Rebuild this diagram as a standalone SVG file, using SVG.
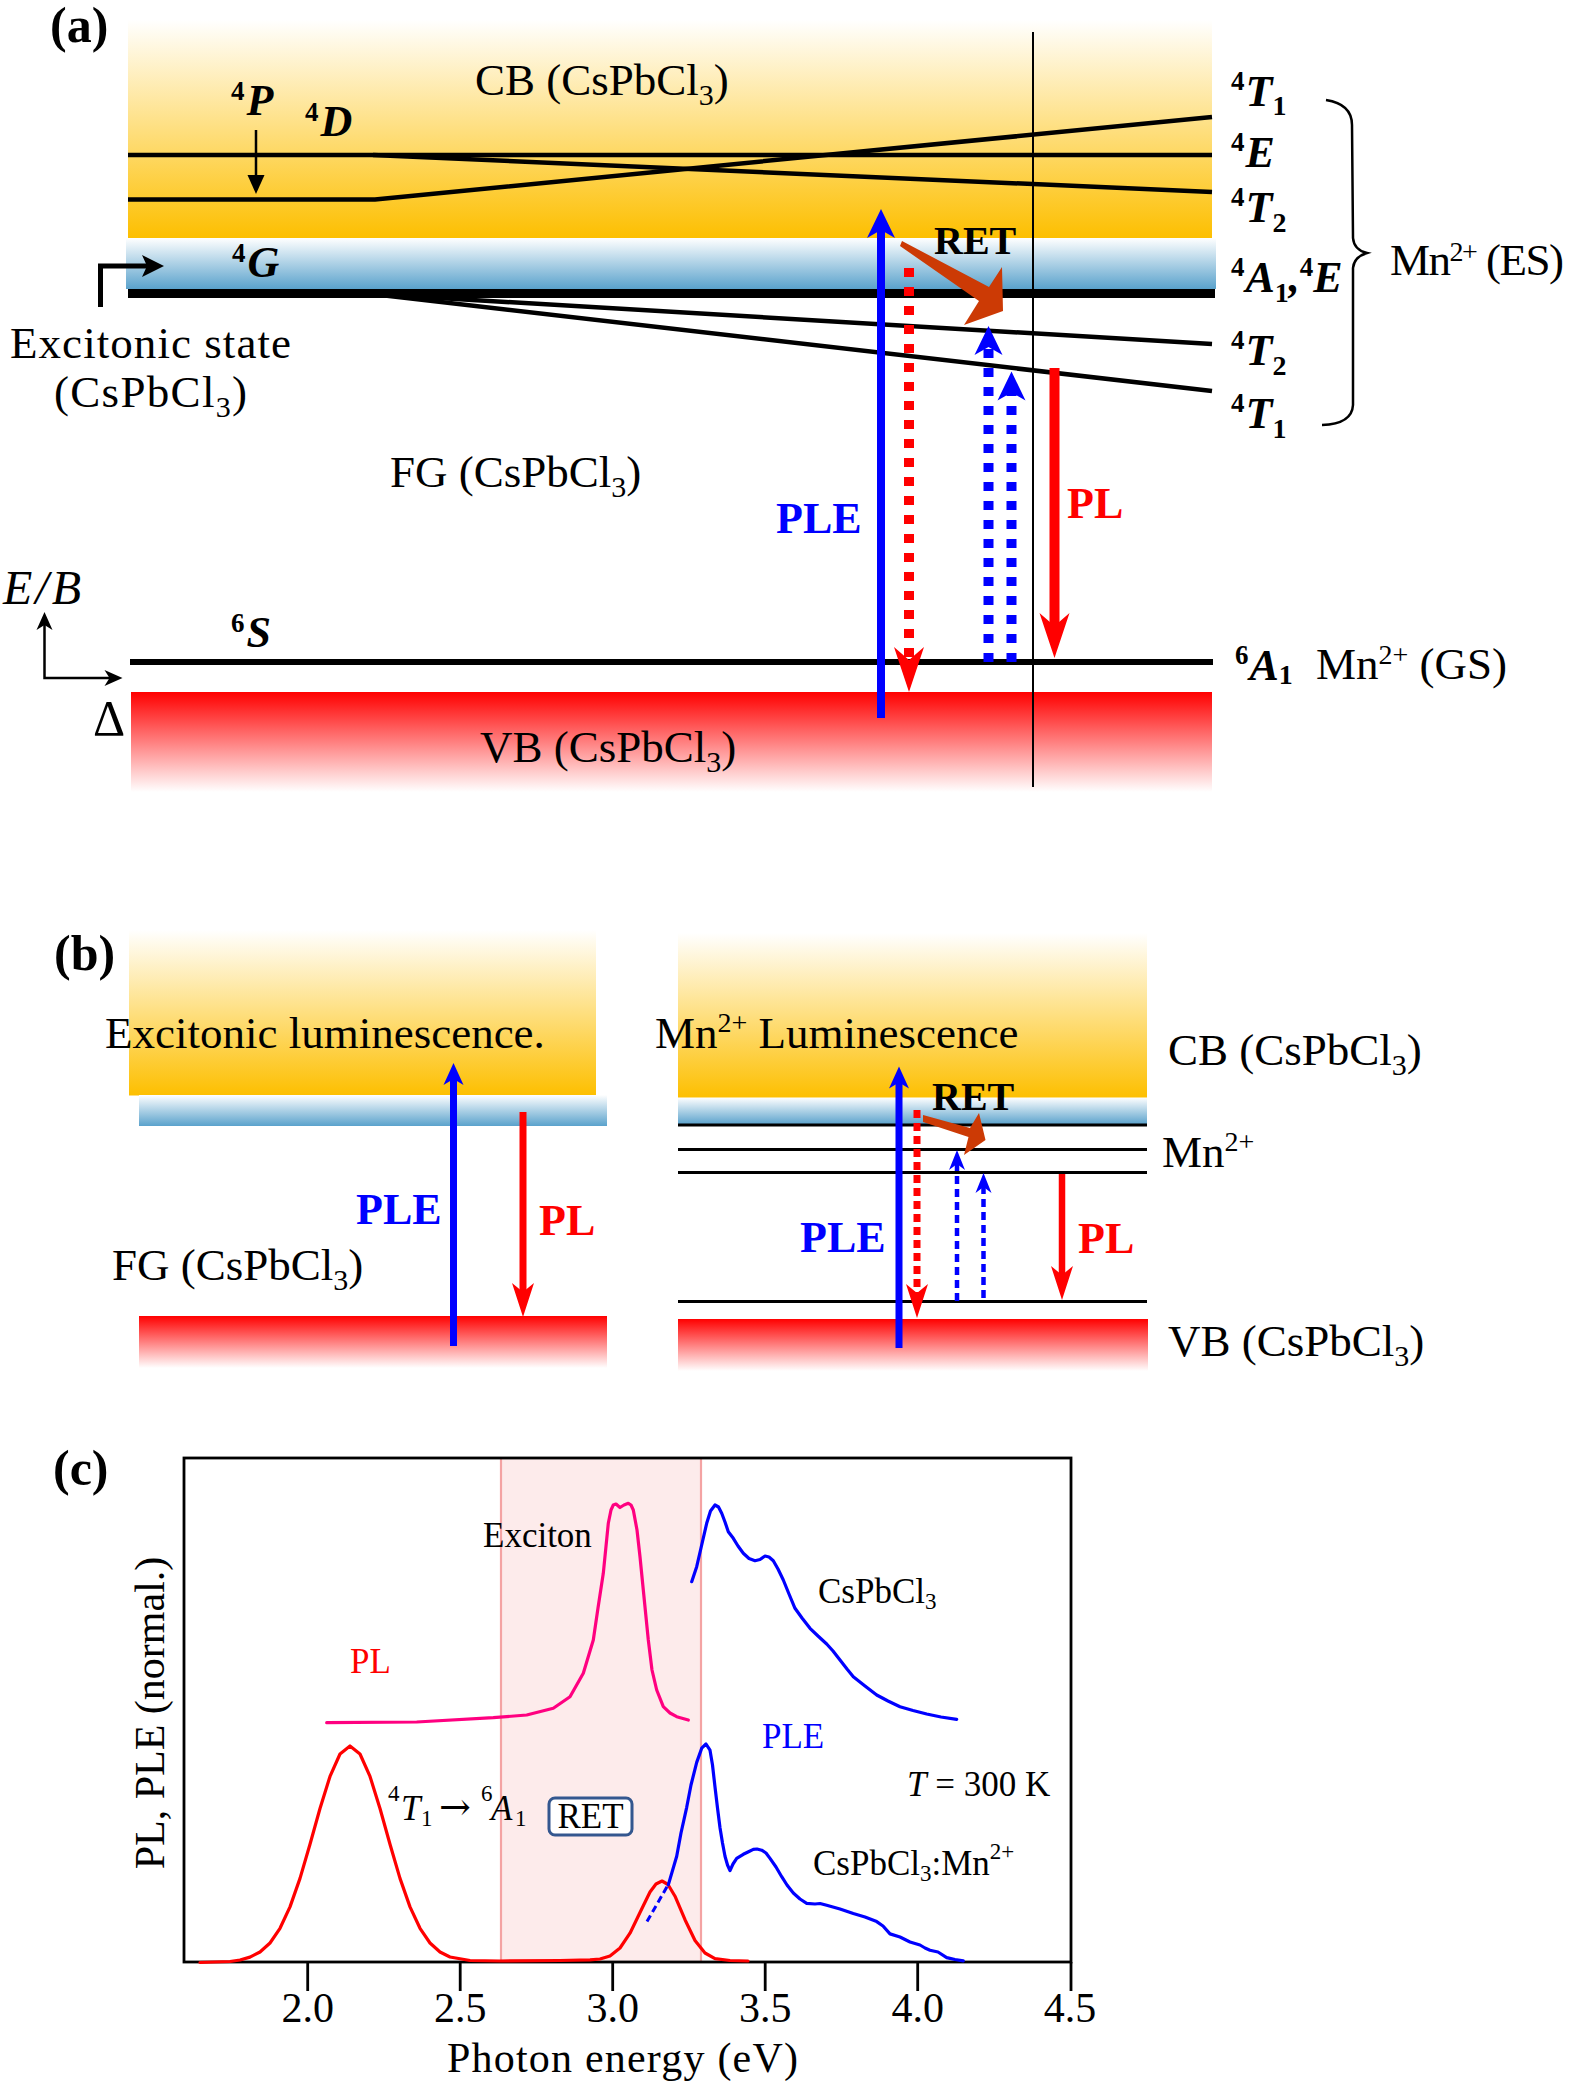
<svg xmlns="http://www.w3.org/2000/svg" width="1570" height="2081" viewBox="0 0 1570 2081">
<style>
text { font-family: "Liberation Serif", "Times New Roman", serif; fill: #000; }
.t45 { font-size: 45px; }
.b { font-weight: bold; }
.bi { font-weight: bold; font-style: italic; font-size: 44px; }
.sup { font-size: 27px; font-style: normal; }
.sub { font-size: 28px; font-style: normal; }
.ts { font-size: 30px; }
.s28 { font-size: 28px; }
.ple { fill: #0000FF; font-weight: bold; font-size: 44px; }
.pl { fill: #FF0000; font-weight: bold; font-size: 44px; }
.c35 { font-size: 35px; }
.c22 { font-size: 23px; }
.arr { font-family: "DejaVu Serif", "DejaVu Sans", serif; font-size: 38px; font-style: normal; }
.lv { stroke: #000; fill: none; }
.cv { fill: none; stroke-width: 3.2; stroke-linejoin: round; stroke-linecap: round; }
.tick { font-size: 42px; text-anchor: middle; }
</style>
<defs>
  <linearGradient id="gCB" x1="0" y1="0" x2="0" y2="1">
    <stop offset="0" stop-color="#FFFFFF"/>
    <stop offset="1" stop-color="#FDBF00"/>
  </linearGradient>
  <linearGradient id="gBlue" x1="0" y1="0" x2="0" y2="1">
    <stop offset="0" stop-color="#FFFFFF"/>
    <stop offset="1" stop-color="#5AA2CC"/>
  </linearGradient>
  <linearGradient id="gRed" x1="0" y1="0" x2="0" y2="1">
    <stop offset="0" stop-color="#FF0000"/>
    <stop offset="1" stop-color="#FFFFFF"/>
  </linearGradient>
  <path id="hA" d="M0,0 L14,29 L0,21 L-14,29 Z"/>
  <path id="hB" d="M0,0 L-15,-45 L0,-32 L15,-45 Z"/>
  <path id="hC" d="M0,0 L10,22 L0,16 L-10,22 Z"/>
  <path id="hD" d="M0,0 L-11,-34 L0,-25 L11,-34 Z"/>
  <path id="hE" d="M0,0 L8,20 L0,14 L-8,20 Z"/>
  <path id="hK" d="M0,0 L8,18 L0,13 L-8,18 Z"/>
</defs>

<!-- ================= PANEL (a) ================= -->
<g id="panel-a">
  <g id="a-cb"><rect x="128" y="20" width="1084" height="218.5" fill="url(#gCB)"/></g>
  <g id="a-exciton-band"><rect x="126" y="238" width="1090" height="51" fill="url(#gBlue)"/></g>
  <g id="a-vb"><rect x="131" y="692" width="1081" height="100" fill="url(#gRed)"/></g>
  <g id="a-levels" class="lv">
    <line x1="128" y1="155" x2="1212" y2="155" stroke-width="4.5"/>
    <polyline points="128,199.5 375,199.5 1212,117" stroke-width="4.5"/>
    <line x1="373" y1="155" x2="1212" y2="192" stroke-width="4.5"/>
    <line x1="128" y1="293.5" x2="1215" y2="293.5" stroke-width="9"/>
    <line x1="372" y1="294" x2="1212" y2="344" stroke-width="4.5"/>
    <line x1="372" y1="294" x2="1212" y2="391" stroke-width="4.5"/>
    <line x1="130" y1="662" x2="1213" y2="662" stroke-width="6"/>
    <line x1="1033" y1="32" x2="1033" y2="787" stroke-width="2"/>
  </g>
  <g id="a-labels">
    <text x="50" y="42" class="b" font-size="50">(a)</text>
    <text x="475" y="95" class="t45">CB (CsPbCl<tspan class="ts" dy="10">3</tspan><tspan dy="-10">)</tspan></text>
    <text x="231" y="115" class="bi"><tspan class="sup" dy="-15">4</tspan><tspan dy="15" dx="2">P</tspan></text>
    <text x="305" y="136" class="bi"><tspan class="sup" dy="-15">4</tspan><tspan dy="15" dx="2">D</tspan></text>
    <text x="232" y="277" class="bi"><tspan class="sup" dy="-15">4</tspan><tspan dy="15" dx="2">G</tspan></text>
    <text x="10" y="358" class="t45" textLength="281">Excitonic state</text>
    <text x="54" y="407" class="t45" textLength="193">(CsPbCl<tspan class="ts" dy="10">3</tspan><tspan dy="-10">)</tspan></text>
    <text x="390" y="487" class="t45">FG (CsPbCl<tspan class="ts" dy="10">3</tspan><tspan dy="-10">)</tspan></text>
    <text x="3" y="604" font-size="48" font-style="italic" textLength="78">E/B</text>
    <text x="93" y="735" font-size="50">Δ</text>
    <text x="231" y="647" class="bi"><tspan class="sup" dy="-15">6</tspan><tspan dy="15" dx="2">S</tspan></text>
    <text x="480" y="762" class="t45">VB (CsPbCl<tspan class="ts" dy="10">3</tspan><tspan dy="-10">)</tspan></text>
    <text x="934" y="254" class="b" font-size="40">RET</text>
    <text x="776" y="533" class="ple">PLE</text>
    <text x="1067" y="518" class="pl">PL</text>
    <text x="1231" y="106" class="bi"><tspan class="sup" dy="-16">4</tspan><tspan dy="16" dx="1">T</tspan><tspan class="sub" dy="9">1</tspan></text>
    <text x="1231" y="167" class="bi"><tspan class="sup" dy="-16">4</tspan><tspan dy="16" dx="1">E</tspan></text>
    <text x="1231" y="222" class="bi"><tspan class="sup" dy="-16">4</tspan><tspan dy="16" dx="1">T</tspan><tspan class="sub" dy="10">2</tspan></text>
    <text x="1231" y="292" class="bi"><tspan class="sup" dy="-16">4</tspan><tspan dy="16" dx="1">A</tspan><tspan class="sub" dy="10">1</tspan><tspan dy="-10">,</tspan><tspan class="sup" dy="-16">4</tspan><tspan dy="16">E</tspan></text>
    <text x="1231" y="365" class="bi"><tspan class="sup" dy="-16">4</tspan><tspan dy="16" dx="1">T</tspan><tspan class="sub" dy="10">2</tspan></text>
    <text x="1231" y="428" class="bi"><tspan class="sup" dy="-16">4</tspan><tspan dy="16" dx="1">T</tspan><tspan class="sub" dy="10">1</tspan></text>
    <text x="1390" y="275" class="t45" textLength="174">Mn<tspan class="s28" dy="-14">2+</tspan><tspan dy="14"> (ES)</tspan></text>
    <text x="1235" y="680" class="bi"><tspan class="sup" dy="-16">6</tspan><tspan dy="16" dx="1">A</tspan><tspan class="sub" dy="4">1</tspan></text>
    <text x="1316" y="679" class="t45">Mn<tspan class="s28" dy="-15">2+</tspan><tspan dy="15"> (GS)</tspan></text>
  </g>
  <g id="a-brace">
    <path d="M1326,100 Q1352,104 1352,125 L1353,238 Q1354,250 1367,253 Q1354,257 1353,268 L1353,405 Q1352,424 1322,425" fill="none" stroke="#000" stroke-width="2.5"/>
  </g>
  <g id="a-connectors">
    <line x1="256" y1="130" x2="256" y2="180" stroke="#000" stroke-width="2.5"/>
    <path d="M256,194 L247.5,175 L264.5,175 Z" fill="#000"/>
    <polyline points="100.5,307 100.5,266 150,266" fill="none" stroke="#000" stroke-width="5"/>
    <path d="M164,266 L142,255 L147,266 L142,277 Z" fill="#000"/>
    <polyline points="44.5,622 44.5,678 112,678" fill="none" stroke="#000" stroke-width="2.5"/>
    <use href="#hK" x="44.5" y="612" fill="#000"/>
    <use href="#hK" transform="translate(122.5,678) rotate(90)" fill="#000"/>
    <line x1="881" y1="718" x2="881" y2="228" stroke="#0000FF" stroke-width="8"/>
    <use href="#hA" x="881" y="209" fill="#0000FF"/>
    <line x1="909" y1="268" x2="909" y2="662" stroke="#FF0000" stroke-width="10" stroke-dasharray="9,10"/>
    <use href="#hB" x="909" y="692" fill="#FF0000"/>
    <line x1="988.5" y1="662" x2="988.5" y2="346" stroke="#0000FF" stroke-width="10" stroke-dasharray="9,10"/>
    <use href="#hA" x="988.5" y="326" fill="#0000FF"/>
    <line x1="1011.5" y1="662" x2="1011.5" y2="391" stroke="#0000FF" stroke-width="10" stroke-dasharray="9,10"/>
    <use href="#hA" x="1011.5" y="371.5" fill="#0000FF"/>
    <line x1="1054.5" y1="368" x2="1054.5" y2="630" stroke="#FF0000" stroke-width="10"/>
    <use href="#hB" x="1054.5" y="658" fill="#FF0000"/>
    <polygon points="902,241 989,287 1002,267 1003,311 964,325 979,301 900,246" fill="#CC3A05"/>
  </g>
</g>

<!-- ================= PANEL (b) ================= -->
<g id="panel-b">
  <g id="b1-cb"><rect x="129" y="930" width="467" height="165.5" fill="url(#gCB)"/></g>
  <g id="b1-exciton-band"><rect x="139" y="1095" width="468" height="31" fill="url(#gBlue)"/></g>
  <g id="b1-vb"><rect x="139" y="1316" width="468" height="52" fill="url(#gRed)"/></g>
  <g id="b2-cb"><rect x="678" y="933" width="469" height="165" fill="url(#gCB)"/></g>
  <g id="b2-exciton-band"><rect x="678" y="1097.5" width="469" height="27" fill="url(#gBlue)"/></g>
  <g id="b2-vb"><rect x="678" y="1319" width="470" height="52" fill="url(#gRed)"/></g>
  <g id="b2-levels" class="lv" stroke-width="3.2">
    <line x1="678" y1="1125" x2="1147" y2="1125"/>
    <line x1="678" y1="1149.5" x2="1147" y2="1149.5"/>
    <line x1="678" y1="1172.5" x2="1147" y2="1172.5"/>
    <line x1="678" y1="1301.5" x2="1147" y2="1301.5"/>
  </g>
  <g id="b-labels">
    <text x="54" y="970" class="b" font-size="50">(b)</text>
    <text x="105" y="1048" class="t45">Excitonic luminescence.</text>
    <text x="356" y="1224" class="ple">PLE</text>
    <text x="539" y="1235" class="pl">PL</text>
    <text x="112" y="1280" class="t45">FG (CsPbCl<tspan class="ts" dy="10">3</tspan><tspan dy="-10">)</tspan></text>
    <text x="655" y="1048" class="t45">Mn<tspan class="s28" dy="-16">2+</tspan><tspan dy="16"> Luminescence</tspan></text>
    <text x="932" y="1110" class="b" font-size="40">RET</text>
    <text x="800" y="1252" class="ple">PLE</text>
    <text x="1078" y="1253" class="pl">PL</text>
    <text x="1168" y="1065" class="t45">CB (CsPbCl<tspan class="ts" dy="10">3</tspan><tspan dy="-10">)</tspan></text>
    <text x="1162" y="1167" class="t45">Mn<tspan class="s28" dy="-16">2+</tspan></text>
    <text x="1168" y="1356" class="t45">VB (CsPbCl<tspan class="ts" dy="10">3</tspan><tspan dy="-10">)</tspan></text>
  </g>
  <g id="b-connectors">
    <line x1="453.5" y1="1346" x2="453.5" y2="1078" stroke="#0000FF" stroke-width="7"/>
    <use href="#hC" x="453.5" y="1063" fill="#0000FF"/>
    <line x1="523" y1="1112" x2="523" y2="1292" stroke="#FF0000" stroke-width="7"/>
    <use href="#hD" x="523" y="1317" fill="#FF0000"/>
    <line x1="899" y1="1348" x2="899" y2="1081" stroke="#0000FF" stroke-width="7"/>
    <use href="#hC" x="899" y="1066.5" fill="#0000FF"/>
    <line x1="917" y1="1110" x2="917" y2="1293" stroke="#FF0000" stroke-width="7" stroke-dasharray="8,5"/>
    <use href="#hD" x="917" y="1318" fill="#FF0000"/>
    <line x1="957" y1="1301" x2="957" y2="1163" stroke="#0000FF" stroke-width="4.5" stroke-dasharray="8,5"/>
    <use href="#hE" x="957" y="1150" fill="#0000FF"/>
    <line x1="983.5" y1="1298" x2="983.5" y2="1186" stroke="#0000FF" stroke-width="4.5" stroke-dasharray="8,5"/>
    <use href="#hE" x="983.5" y="1173" fill="#0000FF"/>
    <line x1="1062" y1="1174" x2="1062" y2="1276" stroke="#FF0000" stroke-width="6.5"/>
    <use href="#hD" x="1062" y="1300" fill="#FF0000"/>
    <polygon points="923,1115 970,1128 979,1113 985.5,1140 964,1155 968.5,1137 923,1122" fill="#CC3A05"/>
  </g>
</g>

<!-- ================= PANEL (c) ================= -->
<g id="panel-c">
  <g id="c-shade">
    <rect x="501" y="1458" width="200" height="504" fill="#FDEBEB"/>
    <line x1="501" y1="1458" x2="501" y2="1962" stroke="#F4A3A3" stroke-width="2.2"/>
    <line x1="701" y1="1458" x2="701" y2="1962" stroke="#F4A3A3" stroke-width="2.2"/>
  </g>
  <g id="c-frame" fill="none" stroke="#000" stroke-width="2.8">
    <rect x="184" y="1458" width="887" height="504"/>
    <line x1="307.7" y1="1962" x2="307.7" y2="1991"/>
    <line x1="460.2" y1="1962" x2="460.2" y2="1991"/>
    <line x1="612.7" y1="1962" x2="612.7" y2="1991"/>
    <line x1="765.2" y1="1962" x2="765.2" y2="1991"/>
    <line x1="917.7" y1="1962" x2="917.7" y2="1991"/>
    <line x1="1071" y1="1962" x2="1071" y2="1991"/>
  </g>
  <g id="c-curves">
    <path class="cv" stroke="#FF0080" d="M326.7,1722.7 L416.7,1722 L493.3,1717.7 L526.7,1715 L553.3,1708.3 L570,1696.7 L583.3,1673.3 L593.3,1640 L598,1608 L603.3,1573.3 L608.3,1523.3 L611,1510 L613.3,1505 L616,1504 L620,1507.5 L624,1505 L628.3,1503.3 L631,1505 L633.3,1510 L637,1530 L640,1556.7 L643.3,1590 L648.3,1640 L652,1670 L656.7,1690 L663.3,1706.7 L670,1713 L676.7,1716.7 L688.3,1720"/>
    <path class="cv" stroke="#0000FF" d="M691.7,1581.7 L696.7,1566.7 L701,1548 L706.7,1523.3 L710.5,1511 L715,1505 L718.5,1507 L721.7,1513.3 L725,1522 L728.3,1531.7 L733.3,1538.3 L738,1546 L743.3,1553.3 L749,1558.5 L755,1560.7 L760,1559.5 L765,1556 L769,1557 L773.3,1560.7 L778,1569 L783.3,1580 L789,1594 L795,1608.3 L802,1618 L810,1628.3 L818,1636 L826.7,1644 L833,1651 L840,1660 L847,1669 L853.3,1676.7 L865,1686 L876.7,1695 L888,1701 L900,1706.7 L913,1710.5 L926.7,1714 L941,1717 L956.7,1719.3"/>
    <path class="cv" stroke="#FF0000" d="M200,1962.5 L230,1961.5 L240,1960 L250,1957.1 L260,1952 L270,1943 L280,1928.3 L290,1906.9 L300,1878.4 L310,1844.3 L320,1808.5 L330,1776.4 L340,1754 L350,1746 L360,1754 L370,1776.4 L380,1808.5 L390,1844.3 L400,1878.4 L410,1906.9 L420,1928.3 L430,1943 L440,1952 L450,1957 L470,1960.5 L500,1961 L560,1960.5 L590,1959.8 L600,1959 L610,1956 L620,1948 L630,1933.2 L640,1912.5 L650,1892 L656,1884 L662,1881 L668,1884.5 L675,1896.2 L685,1919.7 L695,1940.5 L705,1953 L715,1958.6 L730,1960.5 L748,1961"/>
    <path class="cv" stroke="#0000FF" d="M668.3,1884.9 L676.7,1856.3 L681,1833 L686.7,1807.3 L691,1785 L696.7,1762.4 L701.7,1748.2 L706,1744 L710,1750.2 L712.5,1765 L715,1787 L717.5,1808 L720,1827.8 L722.5,1843 L725,1856.3 L727.5,1865 L730,1870.6 L733,1864 L736.7,1858.4 L743.3,1854.3 L748,1852 L753.3,1849.4 L757,1849 L761.7,1850.2 L766,1853 L770,1858.4 L776,1867 L781.7,1876.7 L787,1885 L793.3,1893 L800,1899 L806.7,1903.3 L815,1904 L820,1903.5 L826.7,1905.3 L840,1909 L853.3,1913.5 L865,1917 L876.7,1921.6 L883,1926 L890,1933.9 L900,1937 L910,1942 L920,1945 L925,1948 L930,1950.2 L938,1952 L946.7,1957.6 L955,1959.5 L963.3,1960.8"/>
    <line x1="647" y1="1921.5" x2="668" y2="1885" stroke="#0000FF" stroke-width="3" stroke-dasharray="7,4"/>
  </g>
  <g id="c-labels">
    <text x="53" y="1485" class="b" font-size="50">(c)</text>
    <text x="483" y="1547" class="c35">Exciton</text>
    <text x="350" y="1673" class="c35" style="fill:#FF0000">PL</text>
    <text x="818" y="1603" class="c35">CsPbCl<tspan class="c22" dy="6">3</tspan></text>
    <text x="762" y="1748" class="c35" style="fill:#0000FF">PLE</text>
    <text x="907" y="1796" class="c35"><tspan font-style="italic">T</tspan> = 300 K</text>
    <text x="813" y="1875" class="c35">CsPbCl<tspan class="c22" dy="6">3</tspan><tspan dy="-6">:Mn</tspan><tspan class="c22" dy="-16">2+</tspan></text>
    <text y="1820" class="c35"><tspan x="388" class="c22" dy="-19">4</tspan><tspan x="401" dy="19" font-style="italic">T</tspan><tspan x="421" class="c22" dy="6">1</tspan><tspan x="439" dy="-6" class="arr">→</tspan><tspan x="481" class="c22" dy="-19">6</tspan><tspan x="491" dy="19" font-style="italic">A</tspan><tspan x="515" class="c22" dy="6">1</tspan></text>
    <rect x="549" y="1798" width="83" height="37" rx="6" fill="#FFFFFF" stroke="#34578F" stroke-width="3"/>
    <text x="590.5" y="1828" class="c35" text-anchor="middle" font-size="33">RET</text>
    <text x="307.7" y="2022" class="tick">2.0</text>
    <text x="460.2" y="2022" class="tick">2.5</text>
    <text x="612.7" y="2022" class="tick">3.0</text>
    <text x="765.2" y="2022" class="tick">3.5</text>
    <text x="917.7" y="2022" class="tick">4.0</text>
    <text x="1070" y="2022" class="tick">4.5</text>
    <text x="447" y="2072" font-size="42" textLength="351">Photon energy  (eV)</text>
    <text transform="translate(164,1713) rotate(-90)" font-size="42" text-anchor="middle">PL, PLE (normal.)</text>
  </g>
</g>
</svg>
